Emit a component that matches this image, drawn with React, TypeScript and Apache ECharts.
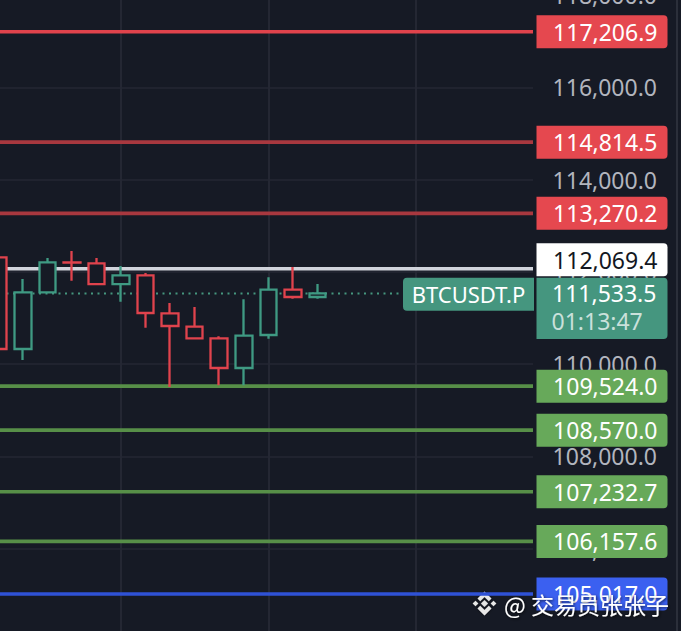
import React, { useEffect, useRef } from "react";
import * as echarts from "echarts";

// ---- data ----
const slotLabels = Array.from({ length: 23 }, (_, i) => String(i));
const opens = [112317, 110329, 111559, 112209, 112187, 111738, 111927, 111103, 110813, 110561, 109917, 110633, 111615, 111457];
const highs = [112420, 111847, 112302, 112454, 112302, 112129, 111977, 111326, 111240, 110604, 111407, 111884, 112107, 111738];
const lows = [110260, 110090, 111559, 111810, 111738, 111355, 110791, 109505, 110561, 109542, 109542, 110552, 111420, 111420];
const closes = [110329, 111559, 112209, 112200, 111738, 111927, 111110, 110828, 110561, 109917, 110618, 111615, 111457, 111533.5];

const levelPrices = [117206.9, 114814.5, 113270.2, 112069.4, 109524.0, 108570.0, 107232.7, 106157.6, 105017.0];
const levelKinds = ["red", "red2", "red2", "white", "green", "green", "green", "green", "blue"];
const currentPrice = 111533.5;
const countdown = "01:13:47";
const symbolName = "BTCUSDT.P";
const priceMin = 104000;
const priceMax = 118000;
const priceInterval = 2000;
const watermark = "@ 交易员张张子";

// ---- styles ----
const BG = "#161a25";
const GRID = "#242733";
const UP = "#3f9a83";
const DOWN = "#e0434d";
const FONT = "Noto Sans";
const kindStyle: Record<string, { line: string; box: string; text: string }> = {
  red: { line: "#e0434c", box: "#e5484f", text: "#ffffff" },
  red2: { line: "#a8383f", box: "#e5484f", text: "#ffffff" },
  white: { line: "#d1d4dc", box: "#ffffff", text: "#131722" },
  green: { line: "#578f48", box: "#67a95a", text: "#ffffff" },
  blue: { line: "#2f52d6", box: "#3b60f0", text: "#ffffff" },
};
const boxShift: Record<string, number> = { white: -9 };

const fmt = (v: number) =>
  v.toLocaleString("en-US", { minimumFractionDigits: 1, maximumFractionDigits: 1 });

const PLOT_RIGHT = 533;
const GRID_TOP = -4.78;
const GRID_H = 645.7;

export default function App() {
  const ref = useRef<HTMLDivElement>(null);
  useEffect(() => {
    const el = ref.current!;
    const chart = echarts.init(el, null, { renderer: "svg" });
    const candleData = opens.map((o, i) => [o, closes[i], lows[i], highs[i]]);

    const levelSeries = levelPrices.map((p, i) => ({
      type: "line",
      xAxisIndex: 1,
      yAxisIndex: 1,
      silent: true,
      symbol: "none",
      z: 2,
      data: [[0, p], [1, p]],
      lineStyle: { color: kindStyle[levelKinds[i]].line, width: 3.6 },
    }));

    chart.setOption({
      animation: false,
      backgroundColor: BG,
      grid: [
        { left: -1.75, width: 24.55 * 22, top: GRID_TOP, height: GRID_H, containLabel: false, outerBoundsMode: "none" },
        { left: 0, width: PLOT_RIGHT, top: GRID_TOP, height: GRID_H, containLabel: false, outerBoundsMode: "none" },
      ],
      xAxis: [
        {
          type: "category",
          gridIndex: 0,
          data: slotLabels,
          boundaryGap: false,
          axisLine: { show: false },
          axisTick: { show: false },
          axisLabel: { show: false },
          splitLine: {
            show: true,
            interval: (idx: number) => idx % 6 === 5,
            lineStyle: { color: GRID, width: 2 },
          },
        },
        { type: "value", gridIndex: 1, min: 0, max: 1, show: false },
      ],
      yAxis: [
        { type: "value", gridIndex: 0, min: priceMin, max: priceMax, show: false, splitLine: { show: false } },
        {
          type: "value",
          gridIndex: 1,
          position: "right",
          min: priceMin,
          max: priceMax,
          interval: priceInterval,
          axisLine: { show: false },
          axisTick: { show: false },
          axisLabel: {
            align: "right",
            margin: 124,
            color: "#b2b5be",
            fontSize: 23,
            fontFamily: FONT,
            formatter: (v: number) => fmt(v),
          },
          splitLine: { show: true, lineStyle: { color: GRID, width: 1.5 } },
        },
      ],
      series: [
        ...levelSeries,
        {
          type: "line",
          xAxisIndex: 1,
          yAxisIndex: 1,
          silent: true,
          symbol: "none",
          z: 3,
          data: [[0, currentPrice], [1, currentPrice]],
          lineStyle: { color: "#45967f", width: 2, type: [2, 4.5] },
        },
        {
          type: "candlestick",
          xAxisIndex: 0,
          yAxisIndex: 0,
          z: 5,
          barWidth: 17,
          data: candleData,
          itemStyle: {
            color: BG,
            color0: BG,
            borderColor: UP,
            borderColor0: DOWN,
            borderWidth: 2.3,
          },
        },
      ],
    });

    const yPix = (v: number) => chart.convertToPixel({ yAxisIndex: 1 }, v) as number;
    const boxX = 536.5;
    const boxW = 131;
    const boxH = 33;
    const textRight = 657.5;
    const g: any[] = [];

    levelPrices.forEach((p, i) => {
      const k = levelKinds[i];
      const st = kindStyle[k];
      const cy = yPix(p) + (boxShift[k] || 0);
      g.push({
        type: "rect",
        z: 100,
        shape: { x: boxX, y: cy - boxH / 2, width: boxW, height: boxH, r: [0, 4, 4, 0] },
        style: { fill: st.box },
      });
      g.push({
        type: "text",
        z: 101,
        x: textRight,
        y: cy,
        style: { text: fmt(p), fill: st.text, fontSize: 23, fontFamily: FONT, align: "right", verticalAlign: "middle" },
      });
    });

    // current price box
    const cp = yPix(currentPrice);
    g.push({
      type: "rect",
      z: 100,
      shape: { x: boxX, y: cp - 15.7, width: boxW, height: 61.3, r: [0, 4, 4, 0] },
      style: { fill: "#45967f" },
    });
    g.push({
      type: "text",
      z: 101,
      x: 552,
      y: cp,
      style: { text: fmt(currentPrice), fill: "#ffffff", fontSize: 23, fontFamily: FONT, align: "left", verticalAlign: "middle" },
    });
    g.push({
      type: "text",
      z: 101,
      x: 551.5,
      y: cp + 27.5,
      style: { text: countdown, fill: "rgba(255,255,255,0.72)", fontSize: 23, fontFamily: FONT, align: "left", verticalAlign: "middle" },
    });
    // symbol box
    g.push({
      type: "rect",
      z: 100,
      shape: { x: 403, y: cp - 15.7, width: 131, height: 33, r: [4, 0, 0, 4] },
      style: { fill: "#45967f" },
    });
    g.push({
      type: "text",
      z: 101,
      x: 468.5,
      y: cp + 0.8,
      style: { text: symbolName, fill: "#ffffff", fontSize: 22, fontFamily: FONT, align: "center", verticalAlign: "middle" },
    });

    // right border
    g.push({
      type: "line",
      z: 99,
      shape: { x1: 677, y1: 0, x2: 677, y2: 631 },
      style: { stroke: "#2b2f3a", lineWidth: 2 },
    });

    // watermark logo
    const logoFill = "#e8e8e8";
    const shadow = { shadowColor: "rgba(0,0,0,0.6)", shadowBlur: 3 };
    g.push({
      type: "group",
      z: 110,
      x: 484.5,
      y: 603.5,
      children: [
        { type: "polygon", shape: { points: [[0, -3.6], [3.6, 0], [0, 3.6], [-3.6, 0]] }, style: { fill: logoFill, ...shadow } },
        { type: "polygon", shape: { points: [[-9, -2.8], [-6.2, 0], [-9, 2.8], [-11.8, 0]] }, style: { fill: logoFill, ...shadow } },
        { type: "polygon", shape: { points: [[9, -2.8], [11.8, 0], [9, 2.8], [6.2, 0]] }, style: { fill: logoFill, ...shadow } },
        { type: "polygon", shape: { points: [[0, -12], [7, -5], [4.3, -2.3], [0, -6.6], [-4.3, -2.3], [-7, -5]] }, style: { fill: logoFill, ...shadow } },
        { type: "polygon", shape: { points: [[0, 12], [7, 5], [4.3, 2.3], [0, 6.6], [-4.3, 2.3], [-7, 5]] }, style: { fill: logoFill, ...shadow } },
      ],
    });
    g.push({
      type: "text",
      z: 110,
      x: 504,
      y: 604,
      style: {
        text: watermark,
        fill: "#ffffff",
        fontSize: 23,
        fontFamily: "Noto Sans CJK SC",
        align: "left",
        verticalAlign: "middle",
        textShadowColor: "rgba(0,0,0,0.7)",
        textShadowBlur: 3,
        textShadowOffsetX: 1,
        textShadowOffsetY: 1,
      },
    });

    chart.setOption({ graphic: g });
    return () => chart.dispose();
  }, []);

  return (
    <div
      ref={ref}
      style={{ position: "fixed", left: 0, top: 0, width: 681, height: 631, background: BG }}
    />
  );
}
